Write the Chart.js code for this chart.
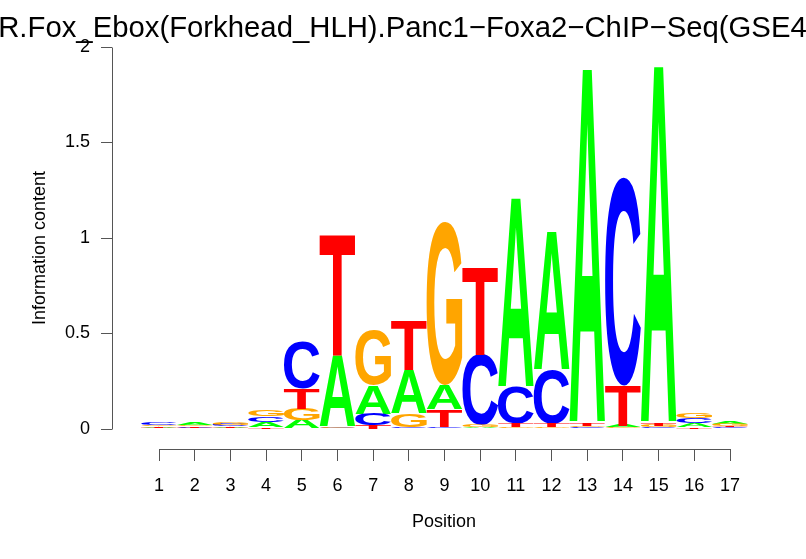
<!DOCTYPE html>
<html><head><meta charset="utf-8">
<script src="https://cdn.jsdelivr.net/npm/chart.js@4.4.1/dist/chart.umd.min.js"></script>
<style>html,body{margin:0;padding:0;background:#fff;overflow:hidden}#wrap{width:806px;height:559px}</style>
</head><body><div id="wrap"><canvas id="c" width="806" height="559"></canvas></div>
<script>
// ---- data ----
const titleText = "HOMER.Fox_Ebox(Forkhead_HLH).Panc1\u2212Foxa2\u2212ChIP\u2212Seq(GSE47459).Homer";
const positions = ['1','2','3','4','5','6','7','8','9','10','11','12','13','14','15','16','17'];
const yTickValues = [0, 0.5, 1, 1.5, 2];
const yTickLabels = ['0', '0.5', '1', '1.5', '2'];
const letters = ['A', 'C', 'G', 'T'];
const heightA = [0.006,0.010,0.006,0.025,0.047,0.370,0.150,0.227,0.125,0.008,0.990,0.725,1.857,0.010,1.870,0.020,0.012];
const heightC = [0.010,0.006,0.010,0.030,0.245,0.008,0.060,0.012,0.012,0.370,0.190,0.280,0.008,1.090,0.008,0.024,0.008];
const heightG = [0.008,0.009,0.011,0.035,0.058,0.006,0.290,0.070,0.857,0.012,0.010,0.010,0.008,0.008,0.010,0.027,0.010];
const heightT = [0.007,0.007,0.007,0.010,0.105,0.635,0.020,0.254,0.090,0.460,0.018,0.018,0.012,0.210,0.011,0.012,0.009];

// ---- styles ----
const letterColors = {A:'#00FF00', C:'#0000FF', G:'#FFA500', T:'#FF0000'};
const FONT = '"Liberation Sans", Arial, Helvetica, sans-serif';
const axisColor = '#555555';

// build stacked ranges (smallest letter at bottom)
const heights = {A: heightA, C: heightC, G: heightG, T: heightT};
const ranges = {A: [], C: [], G: [], T: []};
positions.forEach((p, i) => {
  const order = letters.slice().sort((a, b) => heights[a][i] - heights[b][i]);
  let acc = 0;
  order.forEach(l => {
    ranges[l].push({x: i + 1, y: [acc, acc + heights[l][i]]});
    acc += heights[l][i];
  });
});

const glyphCache = {};
function glyph(ctx, l) {
  if (glyphCache[l]) return glyphCache[l];
  ctx.save();
  ctx.font = 'bold 200px ' + FONT;
  const m = ctx.measureText(l);
  ctx.restore();
  const g = {left: m.actualBoundingBoxLeft, w: m.actualBoundingBoxLeft + m.actualBoundingBoxRight,
             asc: m.actualBoundingBoxAscent, h: m.actualBoundingBoxAscent + m.actualBoundingBoxDescent};
  glyphCache[l] = g;
  return g;
}

const logoPlugin = {
  id: 'logoLetters',
  afterDatasetsDraw(chart) {
    const ctx = chart.ctx;
    chart.data.datasets.forEach((ds, di) => {
      const meta = chart.getDatasetMeta(di);
      const l = ds.label;
      const g = glyph(ctx, l);
      meta.data.forEach(el => {
        const top = Math.min(el.y, el.base), bot = Math.max(el.y, el.base);
        const h = bot - top;
        if (h <= 0) return;
        const left = el.x - el.width / 2;
        ctx.save();
        ctx.translate(left, top);
        ctx.scale(el.width / g.w, h / g.h);
        ctx.font = 'bold 200px ' + FONT;
        ctx.textAlign = 'left';
        ctx.textBaseline = 'alphabetic';
        ctx.fillStyle = letterColors[l];
        ctx.fillText(l, g.left, g.asc);
        ctx.restore();
      });
    });
  },
  afterDraw(chart) {
    const ctx = chart.ctx;
    const xs = chart.scales.x, ys = chart.scales.y, ca = chart.chartArea;
    ctx.save();
    ctx.strokeStyle = axisColor;
    ctx.lineWidth = 1;
    // y axis line from 0 to 2
    const xl = Math.round(ca.left) + 0.5;
    ctx.beginPath();
    ctx.moveTo(xl, Math.round(ys.getPixelForValue(yTickValues[0])) + 0.5);
    ctx.lineTo(xl, Math.round(ys.getPixelForValue(yTickValues[yTickValues.length - 1])) + 0.5);
    ctx.stroke();
    // x axis line from 1 to 17
    const yb = Math.round(ca.bottom) + 0.5;
    ctx.beginPath();
    ctx.moveTo(Math.round(xs.getPixelForValue(1)) + 0.5, yb);
    ctx.lineTo(Math.round(xs.getPixelForValue(positions.length)) + 0.5, yb);
    ctx.stroke();
    // main title
    ctx.fillStyle = '#000';
    ctx.font = '29.3px ' + FONT;
    ctx.textAlign = 'center';
    ctx.textBaseline = 'alphabetic';
    ctx.fillText(titleText, (ca.left + ca.right) / 2, 37);
    ctx.restore();
  }
};

new Chart(document.getElementById('c'), {
  type: 'bar',
  data: {
    datasets: letters.map(l => ({
      label: l,
      data: ranges[l],
      backgroundColor: 'rgba(0,0,0,0)',
      borderWidth: 0,
      grouped: false,
      barPercentage: 1,
      categoryPercentage: 1
    }))
  },
  options: {
    responsive: false,
    animation: false,
    devicePixelRatio: 1,
    layout: {padding: {top: 47, right: 30, bottom: 22.2, left: 0}},
    plugins: {legend: {display: false}, tooltip: {enabled: false}, title: {display: false}},
    scales: {
      x: {
        type: 'linear',
        offset: false,
        min: 1 - 47 / 35.6875,
        max: 17 + 46 / 35.6875,
        afterBuildTicks: s => { s.ticks = positions.map((p, i) => ({value: i + 1})); },
        ticks: {
          autoSkip: false, maxRotation: 0, padding: 14, color: '#000',
          font: {family: FONT, size: 18},
          callback: (v) => positions[Math.round(v) - 1]
        },
        grid: {display: true, offset: false, drawOnChartArea: false, drawTicks: true, tickLength: 12, color: axisColor},
        border: {display: false},
        title: {display: true, text: 'Position', color: '#000', font: {family: FONT, size: 18}, padding: {top: 0.6, bottom: 4}}
      },
      y: {
        type: 'linear',
        min: -0.1047,
        max: 2,
        afterBuildTicks: s => { s.ticks = yTickValues.map(v => ({value: v})); },
        ticks: {
          padding: 11, color: '#000', font: {family: FONT, size: 18},
          callback: (v) => { const i = yTickValues.indexOf(v); return i >= 0 ? yTickLabels[i] : ''; }
        },
        grid: {display: true, drawOnChartArea: false, drawTicks: true, tickLength: 11, color: axisColor},
        border: {display: false},
        title: {display: true, text: 'Information content', color: '#000', font: {family: FONT, size: 18}, padding: {top: 29.2, bottom: 3.2}}
      }
    }
  },
  plugins: [logoPlugin]
});
</script>
</body></html>
